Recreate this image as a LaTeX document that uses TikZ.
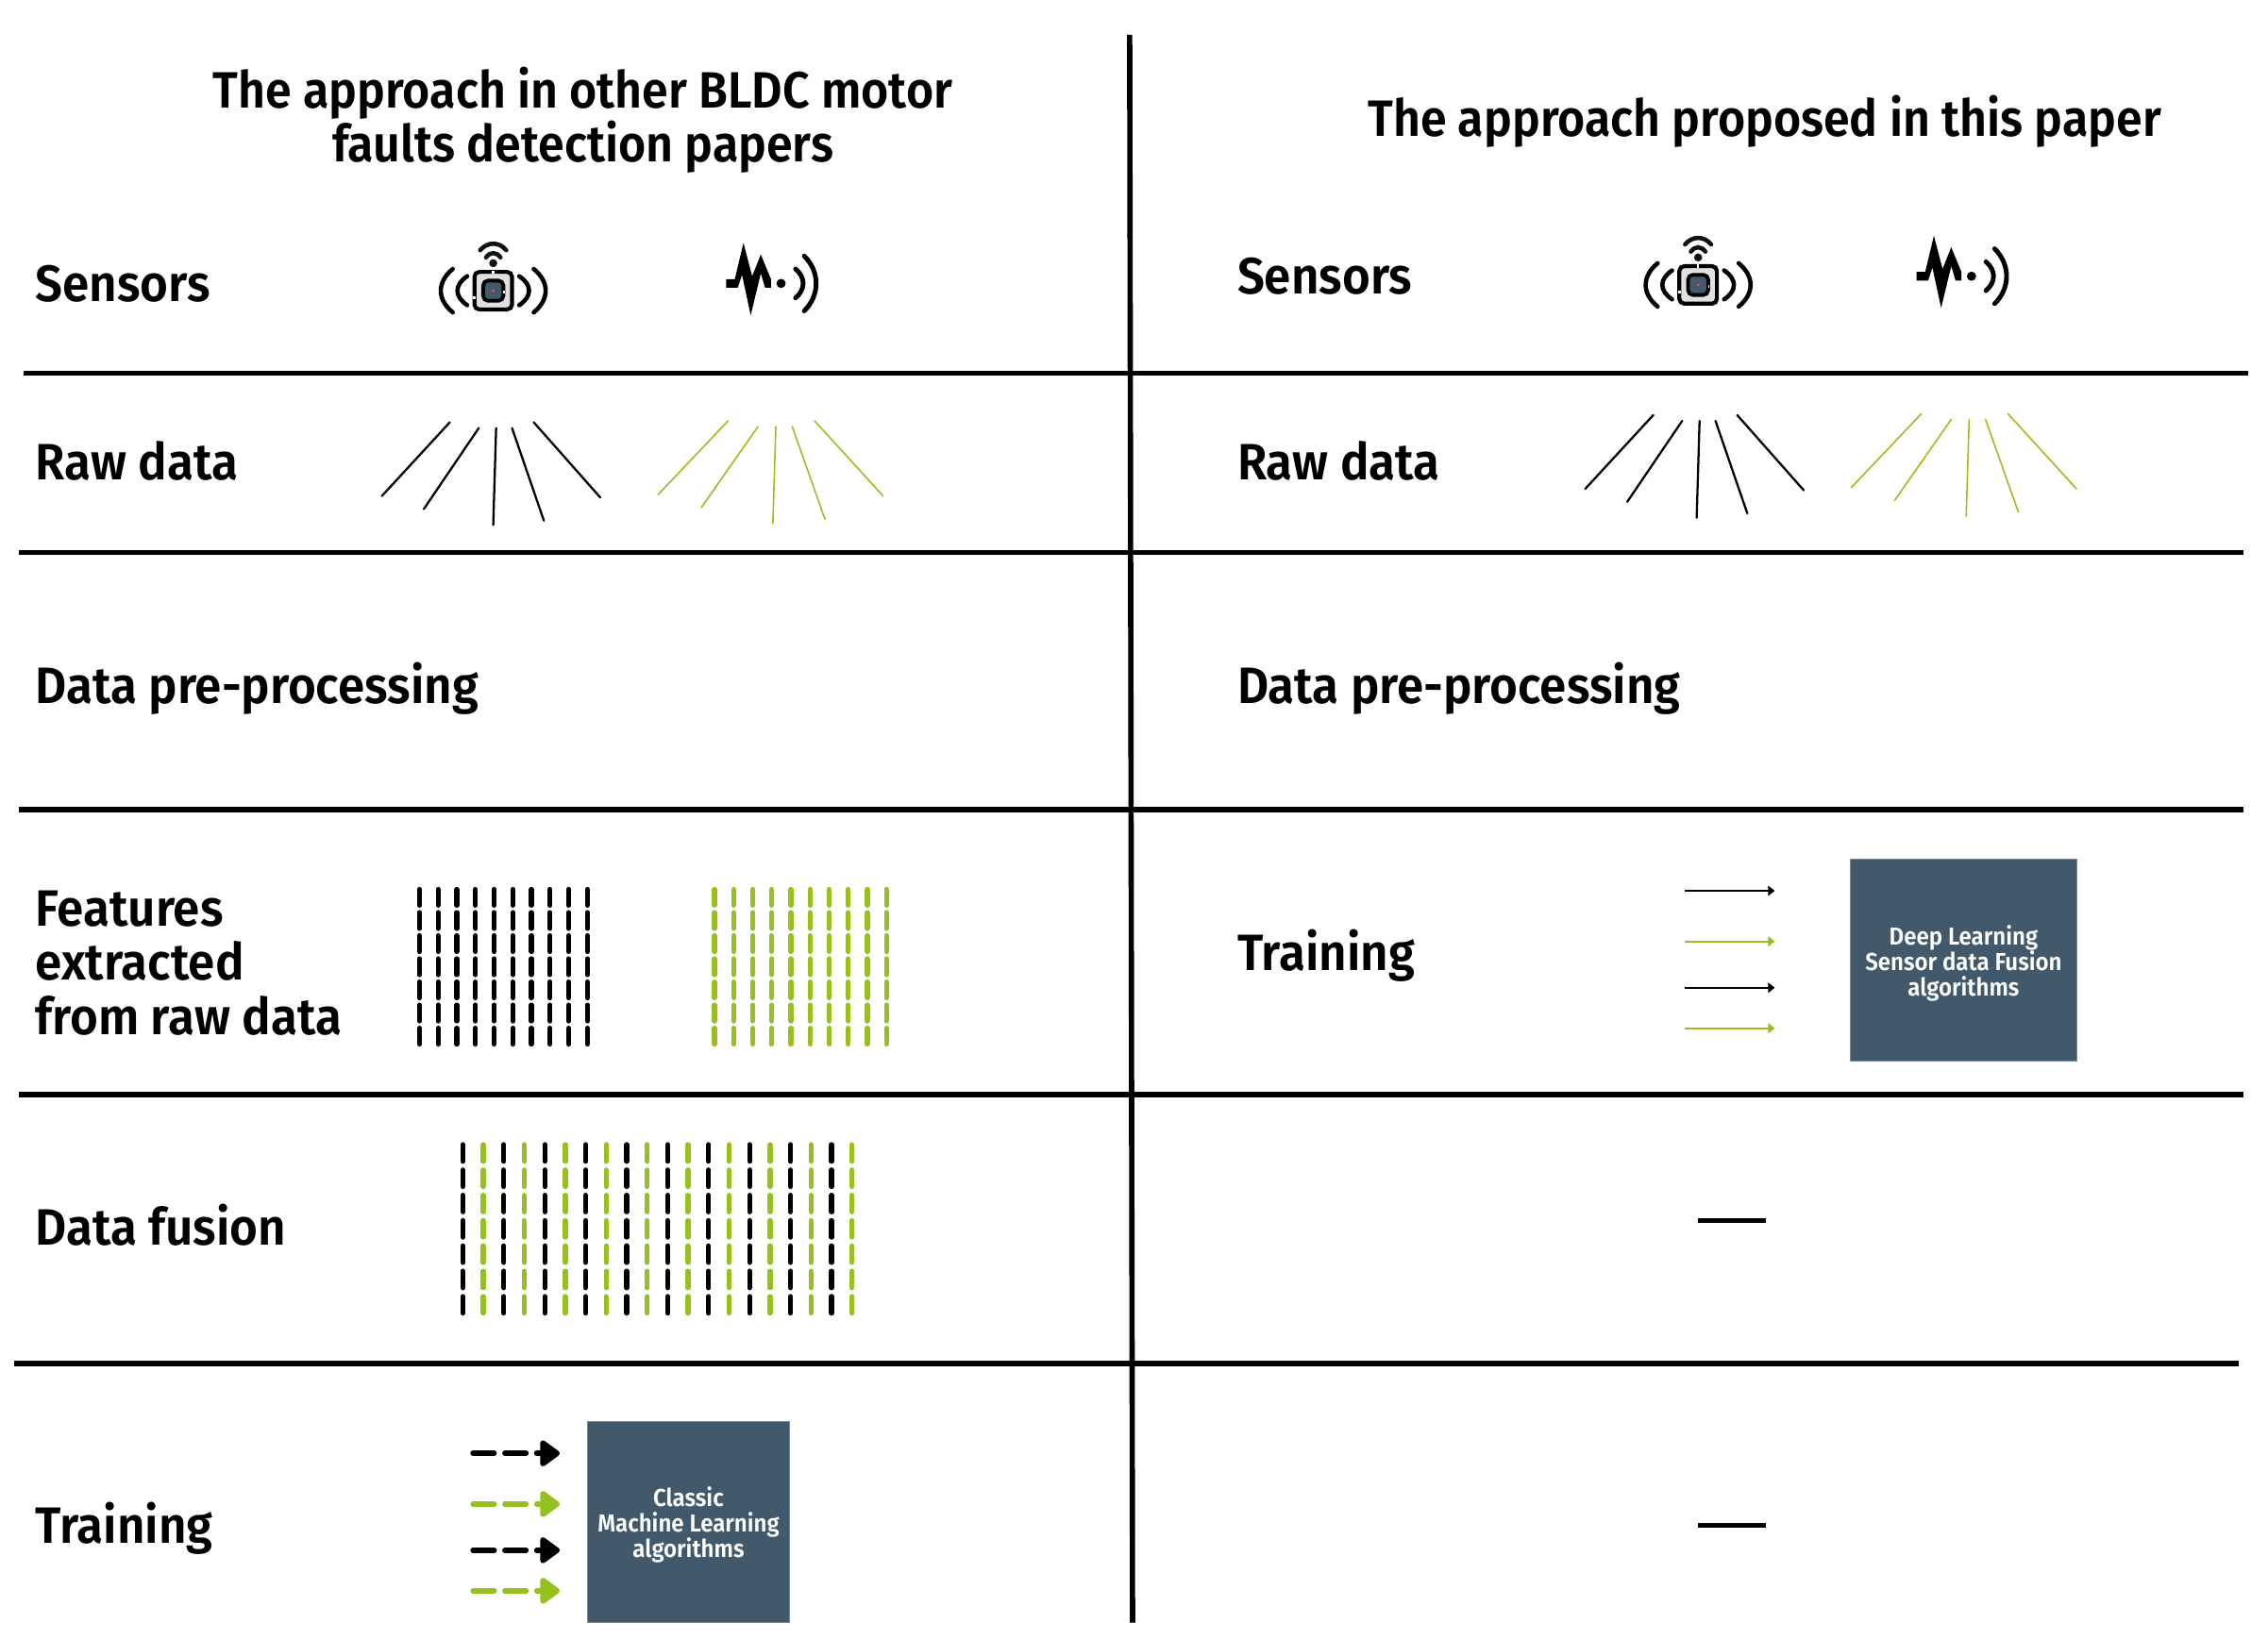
\documentclass[tikz,border=0pt]{standalone}
\usepackage{fontspec}
\setmainfont{Fira Sans SemiBold}[FakeStretch=0.925]
\newfontfamily\rowfont{Fira Sans SemiBold}[FakeStretch=0.945]
\usetikzlibrary{arrows.meta}
\definecolor{leaf}{HTML}{95C11F}
\definecolor{slate}{HTML}{42586B}
\tikzset{
    rowlabel/.style={anchor=west,align=left,inner sep=0pt,font=\fontsize{15.4}{16.3}\selectfont\rowfont},
    headlabel/.style={align=center,inner sep=0pt,font=\fontsize{15.4}{16.3}\selectfont},
    algobox/.style={fill=slate,draw=slate!70,line width=0.3pt,align=center,inner sep=0pt,text=white,
        font=\fontsize{7.4}{7.7}\selectfont},
    separator/.style={line width=1.6pt},
    thinarrow/.style={line width=0.6pt,-{Triangle[length=2pt,width=3pt]}},
    dasharrow/.style={line width=1.6pt,line cap=round,dash pattern=on 6.4pt off 3.2pt,
        -{Triangle[length=6.5pt,width=9pt,round]}},
    griddash/.style={line width=1.5pt,line cap=round},
    pics/sensoricon/.style={code={
        \draw[fill=black!12,line width=1.2pt,rounded corners=1.5pt] (-13,-13) rectangle (13,13);
        \draw[fill=slate,line width=1.1pt,rounded corners=1.5pt] (-7,-7) rectangle (7,7);
        \fill[red!70] (0,0) circle[radius=1];
        \draw[white,line width=0.7pt] (0,-14) -- (0,-12) (-14,5) -- (-12,5) (7,1) -- (8,1);
        \fill[black!80!slate] (0,-19) circle[radius=2.8];
        \draw[black!80!slate,line width=1.3pt,line cap=round] (-5,-23) .. controls (-2,-27) and (2,-27) .. (5,-23);
        \draw[black!80!slate,line width=1.3pt,line cap=round] (-9,-28) .. controls (-4,-34) and (4,-34) .. (9,-28);
        \foreach \sd in {-1,1} {
            \draw[line width=1.3pt,line cap=round] (\sd*18,-10) .. controls (\sd*27,-4) and (\sd*27,4) .. (\sd*18,10);
            \draw[line width=1.3pt,line cap=round] (\sd*28,-15) .. controls (\sd*39,-6) and (\sd*39,6) .. (\sd*28,15);
        }
    }},
    pics/waveicon/.style={code={
        \fill (-38,-3) -- (-32,-3) -- (-26,-28) -- (-20,-5) -- (-14,-20) -- (-7,-3) -- (-7,3)
            -- (-11,3) -- (-14,-7) -- (-21,22) -- (-27,-6) -- (-30,3) -- (-38,3) -- cycle;
        \fill (0,0) circle[radius=3.2];
        \draw[line width=1.4pt,line cap=round] (10,-10) .. controls (17,-4) and (17,4) .. (10,10);
        \draw[line width=1.4pt,line cap=round] (16,-19) .. controls (27,-8) and (27,8) .. (16,19);
    }},
    pics/fanlines/.style={code={
        \foreach \xa/\ya/\xb/\yb in {47/-1/0/50,67/3/29/59,79/3/77/70,90/3/112/67,105/-1/151/51}
            \draw[line cap=round] (\xa,\ya) -- (\xb,\yb);
    }}
}
\begin{document}
\begin{tikzpicture}[x=0.015325cm,y=-0.015325cm]
    \useasboundingbox (0,0) rectangle (1568,1133.5);

    % table rules
    \foreach \rn/\xl/\yr in {a/16/258,b/13/382,c/13/560,d/13/757,e/10/943} {
        \coordinate (rule\rn l) at (\xl,\yr);
        \coordinate (rule\rn r) at (\xl+1538,\yr);
        \draw[separator] (rule\rn l) -- (rule\rn r);
    }
    \coordinate (midtop) at (781,24);
    \coordinate (midbot) at (783,1122);
    \draw[separator] (midtop) -- (midbot);

    % headings
    \node[headlabel] (headl) at (403,83) {The approach in other BLDC motor\\faults detection papers};
    \node[headlabel] (headr) at (1220,84) {The approach proposed in this paper};

    % left column
    \node[rowlabel] (sensl) at (24,196) {Sensors};
    \node[rowlabel] (rawl) at (24,319) {Raw data};
    \node[rowlabel] (prel) at (24,476) {Data pre-processing};
    \node[rowlabel] (featl) at (24,666) {Features\\extracted\\from raw data};
    \node[rowlabel] (fusl) at (24,847) {Data fusion};
    \node[rowlabel] (trainl) at (24,1057) {Training};

    % right column
    \node[rowlabel] (sensr) at (855,191) {Sensors};
    \node[rowlabel] (rawr) at (855,319) {Raw data};
    \node[rowlabel] (prer) at (855,476) {Data pre-processing};
    \node[rowlabel] (trainr) at (855,661) {Training};

    % icons
    \pic at (341,201) {sensoricon};
    \pic at (540,196) {waveicon};
    \pic at (1174,197) {sensoricon};
    \pic at (1363,191) {waveicon};

    % raw data
    \pic[line width=0.65pt] at (264,293) {fanlines};
    \pic[line width=0.45pt,leaf,xscale=1.03] at (455,292) {fanlines};
    \pic[line width=0.65pt] at (1096,288) {fanlines};
    \pic[line width=0.45pt,leaf,xscale=1.03] at (1280,287) {fanlines};

    % features
    \foreach \cn in {0,...,9} {
        \foreach \rn in {0,...,6} {
            \draw[griddash] (290+\cn*12.9,615+\rn*16) -- ++(0,11);
            \draw[griddash,leaf] (494+\cn*13.2,615+\rn*16) -- ++(0,11);
        }
    }

    % fusion
    \foreach \cn in {0,2,...,18} {
        \foreach \rn in {0,...,6} {
            \draw[griddash] (320+\cn*14.16,791.5+\rn*17.5) -- ++(0,11.5);
            \draw[griddash,leaf] (334.16+\cn*14.16,791.5+\rn*17.5) -- ++(0,11.5);
        }
    }

    % training, left
    \node[algobox,minimum width=140*0.015325cm,minimum height=139*0.015325cm] (mlbox) at (476,1052.5) {\rule{0pt}{7.6pt}Classic\\Machine Learning\\algorithms};
    \foreach \an/\yy/\cc in {1/1005/black,2/1040/leaf,3/1072/black,4/1100/leaf} {
        \coordinate (dfrom\an) at (327,\yy);
        \coordinate (dto\an) at (387,\yy);
        \path[dasharrow,\cc] (dfrom\an) edge (dto\an);
    }

    % training, right
    \node[algobox,minimum width=157*0.015325cm,minimum height=140*0.015325cm] (dlbox) at (1357.5,664) {\rule{0pt}{7.6pt}Deep Learning\\Sensor data Fusion\\algorithms};
    \foreach \an/\yy/\cc in {1/616/black,2/651/leaf,3/683/black,4/711/leaf} {
        \coordinate (tfrom\an) at (1165,\yy);
        \coordinate (tto\an) at (1227,\yy);
        \path[thinarrow,\cc] (tfrom\an) edge (tto\an);
    }

    % empty rows
    \foreach \yy in {844,1055}
        \draw[line width=1.5pt] (1174,\yy) -- (1221,\yy);
\end{tikzpicture}
\end{document}
